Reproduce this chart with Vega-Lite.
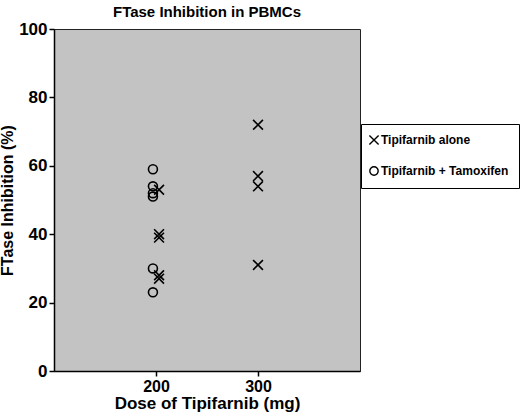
{
  "$schema": "https://vega.github.io/schema/vega-lite/v6.json",
  "autosize": "none",
  "width": 306,
  "height": 342,
  "padding": {"left": 54, "top": 29, "right": 160, "bottom": 42},
  "background": "white",
  "config": {
    "font": "Liberation Sans",
    "view": {"fill": "#c3c3c3", "stroke": "#222", "strokeWidth": 1},
    "axis": {
      "domainColor": "black", "domainWidth": 1.5, "tickColor": "black", "tickWidth": 1.5, "tickSize": 5,
      "labelFont": "Liberation Sans", "labelFontWeight": "bold", "labelFontSize": 17, "labelColor": "black",
      "titleFont": "Liberation Sans", "titleFontWeight": "bold", "titleFontSize": 17, "titleColor": "black",
      "grid": false
    }
  },
  "title": {"text": "FTase Inhibition in PBMCs", "fontSize": 15, "fontWeight": "bold", "font": "Liberation Sans", "color": "black", "anchor": "middle", "offset": 4, "dy": 4},
  "data": {
    "values": [
      {"dose": 203, "inhibition": 53, "group": "Tipifarnib alone"},
      {"dose": 203, "inhibition": 40, "group": "Tipifarnib alone"},
      {"dose": 203, "inhibition": 39, "group": "Tipifarnib alone"},
      {"dose": 203, "inhibition": 28, "group": "Tipifarnib alone"},
      {"dose": 203, "inhibition": 27, "group": "Tipifarnib alone"},
      {"dose": 300, "inhibition": 72, "group": "Tipifarnib alone"},
      {"dose": 300, "inhibition": 57, "group": "Tipifarnib alone"},
      {"dose": 300, "inhibition": 54, "group": "Tipifarnib alone"},
      {"dose": 300, "inhibition": 31, "group": "Tipifarnib alone"},
      {"dose": 197, "inhibition": 59, "group": "Tipifarnib + Tamoxifen"},
      {"dose": 197, "inhibition": 54, "group": "Tipifarnib + Tamoxifen"},
      {"dose": 197, "inhibition": 52, "group": "Tipifarnib + Tamoxifen"},
      {"dose": 197, "inhibition": 51, "group": "Tipifarnib + Tamoxifen"},
      {"dose": 197, "inhibition": 30, "group": "Tipifarnib + Tamoxifen"},
      {"dose": 197, "inhibition": 23, "group": "Tipifarnib + Tamoxifen"}
    ]
  },
  "mark": {"type": "point", "filled": false, "strokeWidth": 1.6, "opacity": 1},
  "encoding": {
    "x": {
      "field": "dose", "type": "quantitative", "title": "Dose of Tipifarnib (mg)",
      "scale": {"domain": [100, 400], "nice": false},
      "axis": {"values": [200, 300], "labelFontSize": 16, "labelPadding": 2, "titlePadding": 1}
    },
    "y": {
      "field": "inhibition", "type": "quantitative", "title": "FTase Inhibition (%)",
      "scale": {"domain": [0, 100], "nice": false},
      "axis": {"values": [0, 20, 40, 60, 80, 100], "labelPadding": 2, "titlePadding": 3, "titleFontSize": 16}
    },
    "shape": {
      "field": "group", "type": "nominal", "title": null,
      "scale": {"domain": ["Tipifarnib alone", "Tipifarnib + Tamoxifen"], "range": ["M-1.1,-1.1L1.1,1.1M-1.1,1.1L1.1,-1.1", "circle"]},
      "legend": {
        "orient": "none", "legendX": 307, "legendY": 95,
        "strokeColor": "black", "fillColor": "white", "padding": 10, "rowPadding": 16,
        "labelFont": "Liberation Sans", "labelFontWeight": "bold", "labelFontSize": 12, "labelColor": "black",
        "symbolStrokeColor": "black", "symbolStrokeWidth": 1.4, "symbolSize": 70, "symbolOffset": -3,
        "labelOffset": 1
      }
    },
    "color": {"value": "black"},
    "size": {"value": 80}
  }
}
